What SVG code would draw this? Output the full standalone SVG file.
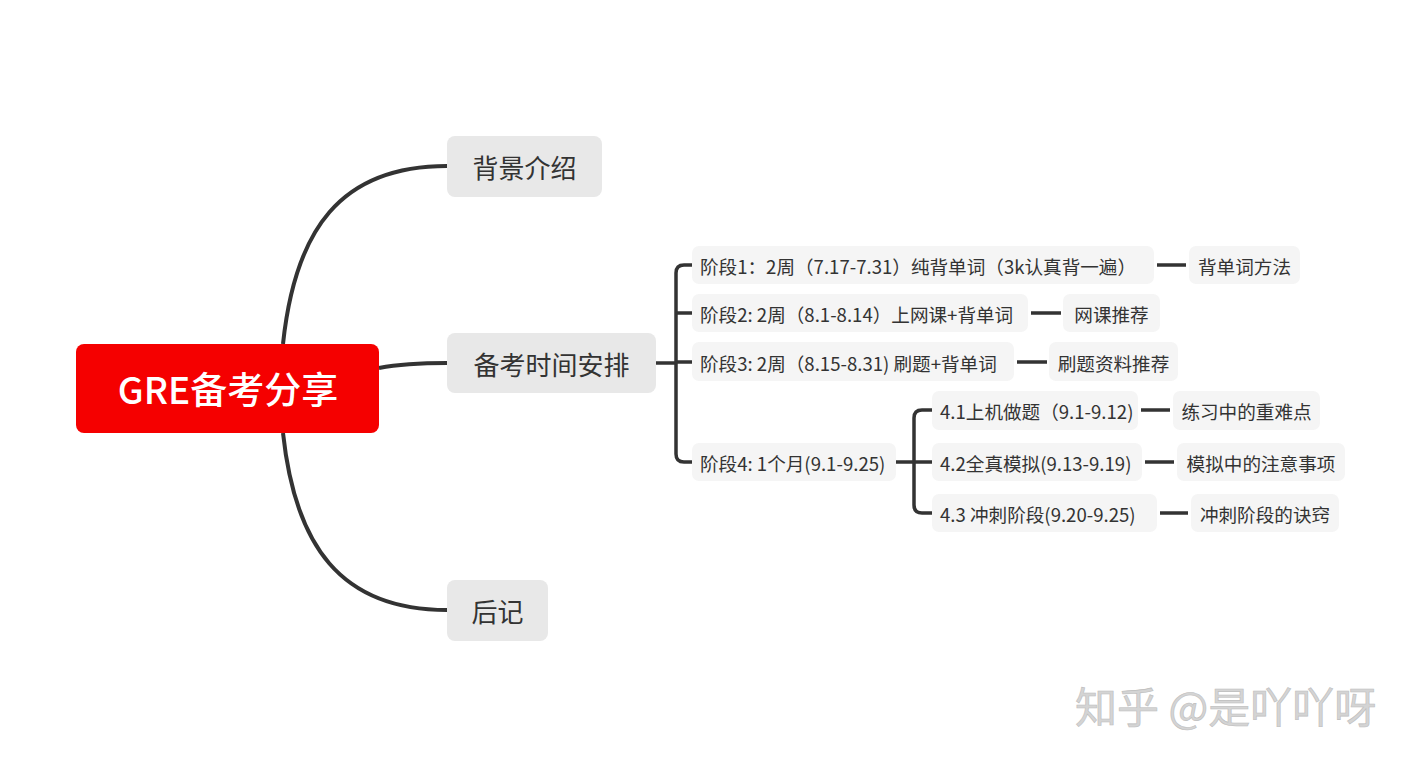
<svg xmlns="http://www.w3.org/2000/svg" width="1414" height="761" viewBox="0 0 1414 761">
<style>
text{font-family:"Noto Sans CJK SC","Noto Sans",sans-serif;fill:#333;dominant-baseline:central}
.l1{fill:#e8e8e8}
.l2{fill:#f5f5f5}
.t1{font-size:26px}
.t2{font-size:18.6px}
.c{fill:none;stroke:#333;stroke-linecap:butt}
</style>
<rect width="1414" height="761" fill="#fff"/>
<g id="connectors">
<path class="c" stroke-width="4" d="M283 344 C295 230 340 166 447 166"/>
<path class="c" stroke-width="4" d="M379 368 C400 364 420 363 447 363"/>
<path class="c" stroke-width="4" d="M283 433 C295 545 340 610 447 610"/>
<path class="c" stroke-width="3.5" d="M656 363 H676 M692 265 H684 Q676 265 676 273 V454 Q676 462 684 462 H692 M676 313 H692 M676 362 H692"/>
<path class="c" stroke-width="3.5" d="M896 462 H914 M932 410 H922 Q914 410 914 418 V505 Q914 513 922 513 H932 M914 462 H932"/>
<path class="c" stroke-width="3.5" d="M1157 265 H1186 M1031 313 H1061 M1017 362 H1047 M1141 410 H1170 M1145 462 H1174 M1160 513 H1188"/>
</g>
<g id="root"><rect x="76" y="344" width="303" height="89" rx="8" fill="#f50000"/><text x="228" y="388" text-anchor="middle" style="fill:#fff;font-size:37px;font-weight:500">GRE备考分享</text></g>
<g id="n-bj"><rect class="l1" x="447" y="136" width="155" height="61" rx="8"/><text class="t1" x="524.5" y="166" text-anchor="middle">背景介绍</text></g>
<g id="n-ap"><rect class="l1" x="447" y="333" width="209" height="60" rx="8"/><text class="t1" x="551.5" y="363" text-anchor="middle">备考时间安排</text></g>
<g id="n-hj"><rect class="l1" x="447" y="580" width="101" height="61" rx="8"/><text class="t1" x="497.5" y="610" text-anchor="middle">后记</text></g>
<g id="n-s1"><rect class="l2" x="692" y="246" width="462" height="38" rx="7"/><text class="t2" x="700" y="265">阶段1：2周（7.17-7.31）纯背单词（3k认真背一遍）</text></g>
<g id="n-s2"><rect class="l2" x="692" y="294" width="336" height="38" rx="7"/><text class="t2" x="700" y="313">阶段2: 2周（8.1-8.14）上网课+背单词</text></g>
<g id="n-s3"><rect class="l2" x="692" y="342" width="322" height="39" rx="7"/><text class="t2" x="700" y="362">阶段3: 2周（8.15-8.31) 刷题+背单词</text></g>
<g id="n-s4"><rect class="l2" x="692" y="443" width="204" height="38" rx="7"/><text class="t2" x="700" y="462">阶段4: 1个月(9.1-9.25)</text></g>
<g id="n-m1"><rect class="l2" x="1189" y="246" width="111" height="38" rx="7"/><text class="t2" x="1244.5" y="265" text-anchor="middle">背单词方法</text></g>
<g id="n-m2"><rect class="l2" x="1063" y="294" width="97" height="38" rx="7"/><text class="t2" x="1111.5" y="313" text-anchor="middle">网课推荐</text></g>
<g id="n-m3"><rect class="l2" x="1049" y="342" width="129" height="39" rx="7"/><text class="t2" x="1113.5" y="362" text-anchor="middle">刷题资料推荐</text></g>
<g id="n-41"><rect class="l2" x="932" y="391" width="206" height="39" rx="7"/><text class="t2" x="940" y="410">4.1上机做题（9.1-9.12)</text></g>
<g id="n-42"><rect class="l2" x="932" y="443" width="210" height="38" rx="7"/><text class="t2" x="940" y="462">4.2全真模拟(9.13-9.19)</text></g>
<g id="n-43"><rect class="l2" x="932" y="494" width="225" height="38" rx="7"/><text class="t2" x="940" y="513">4.3 冲刺阶段(9.20-9.25)</text></g>
<g id="n-41a"><rect class="l2" x="1173" y="391" width="147" height="39" rx="7"/><text class="t2" x="1246.5" y="410" text-anchor="middle">练习中的重难点</text></g>
<g id="n-42a"><rect class="l2" x="1177" y="443" width="168" height="38" rx="7"/><text class="t2" x="1261" y="462" text-anchor="middle">模拟中的注意事项</text></g>
<g id="n-43a"><rect class="l2" x="1191" y="494" width="148" height="38" rx="7"/><text class="t2" x="1265" y="513" text-anchor="middle">冲刺阶段的诀窍</text></g>
<text x="1075" y="704" style="font-size:42px;fill:#d4d4d4;stroke:#bdbdbd;stroke-width:0.6">知乎 @是吖吖呀</text>
</svg>
